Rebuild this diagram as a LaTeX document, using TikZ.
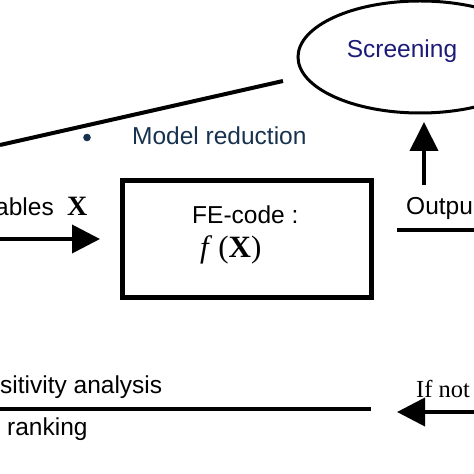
\documentclass[tikz,border=0pt]{standalone}
\usepackage{fontspec}
\setmainfont{Liberation Serif}
\setsansfont{Liberation Sans}
\usetikzlibrary{arrows.meta,shapes.geometric}
\definecolor{scrblue}{HTML}{1C1C78}
\definecolor{redblue}{HTML}{17324F}
\tikzset{
  lbl/.style={inner sep=0pt, font=\sffamily\fontsize{24.5bp}{28bp}\selectfont},
  serlbl/.style={inner sep=0pt, font=\rmfamily\fontsize{24.5bp}{28bp}\selectfont},
  mathlbl/.style={inner sep=0pt, font=\rmfamily\fontsize{28bp}{32bp}\selectfont},
  thick line/.style={line width=4bp},
  bigtip/.style={-{Triangle[length=28bp,width=28bp]}, line width=4bp}
}
\begin{document}
\begin{tikzpicture}[x=1bp,y=-1bp]
\useasboundingbox (0,0) rectangle (474,474);
\clip (0,0) rectangle (474,474);
% ellipse
\node[draw, ellipse, line width=3bp, minimum width=244bp, minimum height=112bp, inner sep=0pt] (scr) at (420,57) {};
\node[lbl, text=scrblue, anchor=base] (scrtxt) at (402,58) {Screening};
% diagonal line
\coordinate (d1) at (0,145);
\coordinate (d2) at (283,81);
\draw[thick line] (d1) -- (d2);
% model reduction
\fill[redblue] (87,137.5) circle (3.8bp);
\node[lbl, text=redblue, anchor=base west] (mr) at (132,145) {Model reduction};
% FE box
\node[draw, line width=5bp, minimum width=249bp, minimum height=117bp, inner sep=0pt] (fe) at (247,239) {};
\node[lbl, anchor=base west] (fetxt) at (192,224) {FE-code :};
\node[mathlbl, font=\rmfamily\fontsize{31bp}{34bp}\selectfont, anchor=base west] (fx) at (200,257) {\textit{f}\hspace{6bp}(\textbf{X})};
% input
\node[lbl, anchor=base east] (inp) at (54,216) {ables};
\node[mathlbl, anchor=base west] (inx) at (67,216) {\textbf{X}};
\coordinate (a1) at (0,239);
\coordinate (a2) at (100,239);
\draw[bigtip] (a1) -- (a2);
% output
\node[lbl, anchor=base west] (out) at (406,215) {Outpu};
\coordinate (o1) at (397,230);
\coordinate (o2) at (474,230);
\draw[thick line] (o1) -- (o2);
% up arrow
\coordinate (u1) at (424,185);
\coordinate (u2) at (424,122);
\draw[-{Triangle[length=29bp,width=28bp]}, line width=4bp] (u1) -- (u2);
% bottom
\node[lbl, anchor=base west] (sa) at (0,393) {sitivity analysis};
\node[lbl, anchor=base west] (rk) at (7,435) {ranking};
\coordinate (b1) at (0,409);
\coordinate (b2) at (371,409);
\draw[thick line] (b1) -- (b2);
\node[serlbl, anchor=base west] (ifn) at (416,397) {If not};
\coordinate (l1) at (474,412);
\coordinate (l2) at (397,412);
\draw[bigtip] (l1) -- (l2);
\end{tikzpicture}
\end{document}
